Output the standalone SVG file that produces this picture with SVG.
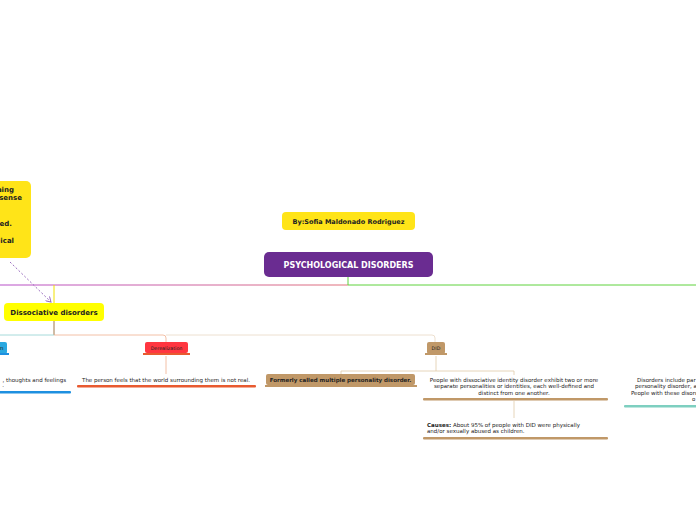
<svg xmlns="http://www.w3.org/2000/svg" width="696" height="520" viewBox="0 0 696 520">
<defs>
<style>
text{font-family:"DejaVu Sans","Liberation Sans",sans-serif;fill:#222}
.s{font-size:5.5px}
.b{font-weight:bold}
</style>
<marker id="a" markerWidth="6" markerHeight="6" refX="5" refY="3" orient="auto"><path d="M0,0L5,3L0,6" fill="none" stroke="#9b6fc0" stroke-width="1"/></marker>
<linearGradient id="g" gradientUnits="userSpaceOnUse" x1="0" y1="0" x2="348" y2="0"><stop offset="0" stop-color="#b74fc9"/><stop offset="1" stop-color="#e0707a"/></linearGradient>
</defs>
<rect width="696" height="520" fill="#fff"/>
<g id="connectors" fill="none">
<path d="M0,285H348" stroke="url(#g)" stroke-width="1"/>
<path d="M348,277V285H696" stroke="#5fd23c" stroke-width="1"/>
<path d="M54,285V303" stroke="#f0e000" stroke-width="1"/>
<path d="M10,262L51,302" stroke="#9b6fc0" stroke-width="1" stroke-dasharray="2,2" marker-end="url(#a)"/>
<path d="M54,321V335" stroke="#a0784a" stroke-width="1"/>
<path d="M54,335H0" stroke="#8fd0d0" stroke-width="0.8"/>
<path d="M54,335H163Q166,335 166,338V342" stroke="#f0b090" stroke-width="0.8"/>
<path d="M166,335H432Q435,335 435,338V342" stroke="#e8d8c4" stroke-width="0.8"/>
<path d="M166,356V374" stroke="#f0b090" stroke-width="0.8"/>
<path d="M436,356V371M341,374V371H514V375M514,401V418" stroke="#e0caa8" stroke-width="0.8"/>
</g>
<g id="left-note"><rect x="-10" y="181" width="41" height="77" rx="5" fill="#ffe418"/>
<text class="b" font-size="7" text-anchor="end"><tspan x="14" y="192">aing</tspan><tspan x="22" y="200">sense</tspan><tspan x="12" y="226">ed.</tspan><tspan x="14" y="243">ical</tspan></text></g>
<g id="author"><rect x="282" y="212" width="133" height="18" rx="4" fill="#ffe418"/><text class="b" font-size="6.5" x="348.5" y="223.5" text-anchor="middle">By:Sofia Maldonado Rodriguez</text></g>
<g id="main"><rect x="264" y="252" width="169" height="25" rx="5" fill="#6a2c91"/><text class="b" font-size="8" x="348.5" y="267.5" text-anchor="middle" style="fill:#fff">PSYCHOLOGICAL DISORDERS</text></g>
<g id="dissociative"><rect x="4" y="303" width="100" height="18" rx="4" fill="#ffff00"/><text class="b" font-size="7" x="54" y="314.5" text-anchor="middle">Dissociative disorders</text></g>
<g id="blue"><rect x="-5" y="342" width="12" height="12" rx="2" fill="#29a8e0"/><rect x="-5" y="353" width="14" height="2" fill="#1e90e0"/><text class="s" x="0" y="349.5">n</text>
<text class="s" x="66" y="381.5" text-anchor="end">, thoughts and feelings</text><text class="s" x="4" y="387" text-anchor="end">.</text><rect x="-2" y="391" width="73" height="2.5" rx="1" fill="#1e90e0"/></g>
<g id="derealization"><rect x="145" y="342" width="43" height="11" rx="2" fill="#ff3640"/><rect x="143" y="353" width="47" height="2" fill="#e85a30"/><text font-size="4.8" x="166.5" y="349.5" text-anchor="middle">Derealization</text>
<text class="s" x="166" y="382" text-anchor="middle">The person feels that the world surrounding them is not real.</text><rect x="77" y="385" width="179" height="2.5" rx="1" fill="#e85a30"/></g>
<g id="did"><rect x="427" y="342" width="18" height="12" rx="2" fill="#c09868"/><rect x="425" y="353" width="22" height="2" fill="#c09868"/><text font-size="4.8" x="436" y="349.5" text-anchor="middle">DID</text></g>
<g id="formerly"><rect x="266" y="374" width="149" height="11" rx="2" fill="#c09868"/><rect x="265" y="385" width="152" height="2" fill="#c09868"/><text class="b" font-size="5.5" x="340.5" y="381.5" text-anchor="middle">Formerly called multiple personality disorder.</text></g>
<g id="people"><text class="s" text-anchor="middle"><tspan x="514" y="381.5">People with dissociative identity disorder exhibit two or more</tspan><tspan x="514" y="388">separate personalities or identities, each well-defined and</tspan><tspan x="514" y="394.5">distinct from one another.</tspan></text><rect x="423" y="398" width="185" height="2.5" rx="1" fill="#c09868"/></g>
<g id="causes"><text class="s" x="427" y="426.5"><tspan class="b">Causes:</tspan> About 95% of people with DID were physically</text><text class="s" x="427" y="433">and/or sexually abused as children.</text><rect x="423" y="437" width="185" height="2.5" rx="1" fill="#c09868"/></g>
<g id="right"><text class="s" x="637" y="381.5">Disorders include par</text><text class="s" x="635" y="388">personality disorder, a</text><text class="s" x="631" y="394.5">People with these disord</text><text class="s" x="692" y="401">o</text><rect x="624" y="405" width="75" height="2.5" rx="1" fill="#7ecfc0"/></g>
</svg>
